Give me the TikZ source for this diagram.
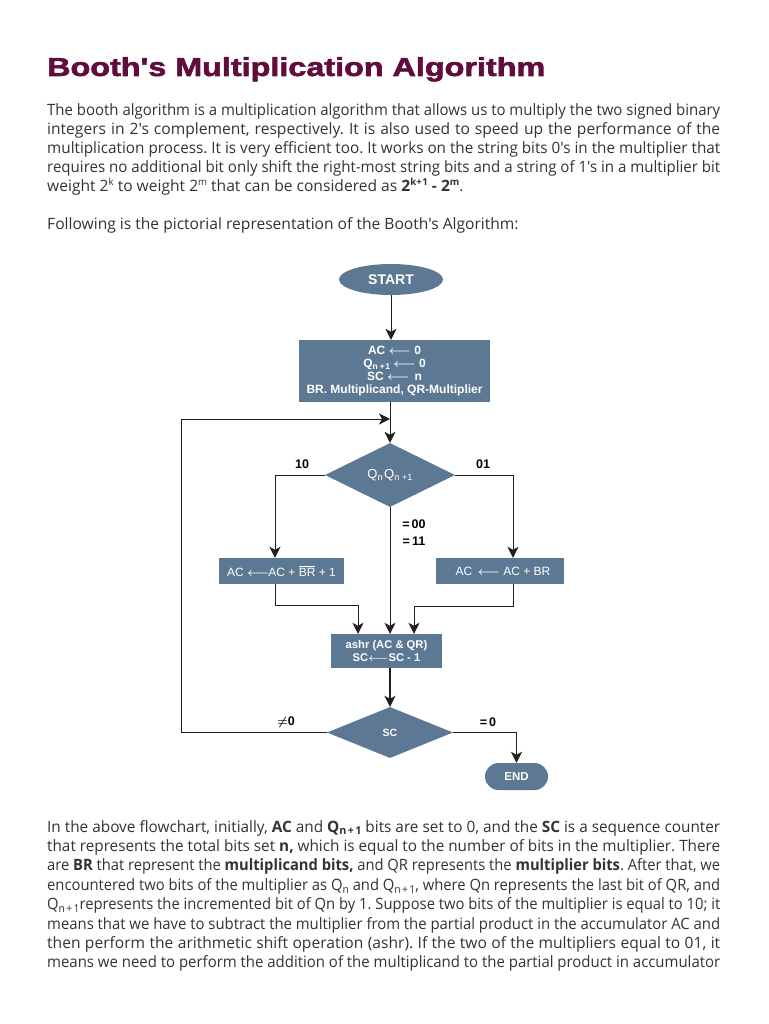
\documentclass[tikz,border=0pt]{standalone}
\usepackage{fontspec}
\usepackage{graphicx}
\usetikzlibrary{shapes.geometric,arrows.meta}
\setmainfont{Open Sans}
\newfontfamily\bodyfont{Open Sans}
\newfontfamily\fcfont{Liberation Sans}
\newfontfamily\ttlfont[FakeBold=2]{Liberation Sans Bold}
\definecolor{ttlcol}{RGB}{96,12,60}
\definecolor{bodycol}{RGB}{51,51,51}
\definecolor{fccol}{RGB}{93,120,146}
\frenchspacing
\newlength\jlw
\newcommand\jline[1]{\settowidth\jlw{#1}\ifdim\jlw>673pt\relax\resizebox{673pt}{\height}{#1}\else\hbox to 673pt{\spaceskip=\fontdimen2\font plus 1fil\relax#1}\fi}
\newcommand\lo[1]{\raisebox{-0.35ex}{\scalebox{0.7}{#1}}}
\newcommand\hi[1]{\raisebox{0.8ex}{\scalebox{0.62}{#1}}}
\newcommand\la{{\boldmath$\longleftarrow$}}
\begin{document}
\begin{tikzpicture}[x=1pt,y=-1pt,
  txt/.style={anchor=base west, inner sep=0, text=bodycol, font=\bodyfont\fontsize{15.6}{19}\selectfont},
  blk/.style={fill=fccol, text=white, inner sep=0, align=center, font=\fcfont\bfseries\fontsize{12}{13.8}\selectfont},
  blkr/.style={blk, font=\fcfont\fontsize{12}{13.8}\selectfont},
  lbl/.style={text=black, inner sep=0, font=\fcfont\bfseries\fontsize{12.5}{14}\selectfont},
  ln/.style={draw=black!88, line width=1pt},
  arr/.style={ln, -{Stealth[length=11pt,width=11pt,inset=3pt]}}
]
\useasboundingbox[fill=white] (0,0) rectangle (768,1024);

% title
\node[anchor=base west, inner sep=0, text=ttlcol] (title) at (47,76)
  {\resizebox{498pt}{\height}{\ttlfont\fontsize{26}{30}\selectfont Booth's Multiplication Algorithm}};

% paragraph 1
\node[txt] (p1a) at (47,116) {\jline{The booth algorithm is a multiplication algorithm that allows us to multiply the two signed binary}};
\node[txt] (p1b) at (47,135) {\jline{integers in 2's complement, respectively. It is also used to speed up the performance of the}};
\node[txt] (p1c) at (47,154) {\jline{multiplication process. It is very efficient too. It works on the string bits 0's in the multiplier that}};
\node[txt] (p1d) at (47,173) {\jline{requires no additional bit only shift the right-most string bits and a string of 1's in a multiplier bit}};
\node[txt] (p1e) at (47,192) {weight 2\hi{k} to weight 2\hi{m} that can be considered as \textbf{2\hi{k+\kern1pt1} - 2\hi{m}}.};
\node[txt] (p1f) at (47,229.5) {Following is the pictorial representation of the Booth's Algorithm:};

% flowchart
\node[blk, ellipse, minimum width=104pt, minimum height=31pt, font=\fcfont\bfseries\fontsize{14}{15}\selectfont] (start) at (391,279.5) {START};
\node[blk, rectangle, minimum width=191pt, minimum height=62pt] (init) at (394.5,371)
  {AC \la\ 0\\[-1pt] Q\lo{n\kern3pt+\kern1pt1} \la\ 0\\ SC \la\ \,n\\[-1pt] BR. Multiplicand, QR-Multiplier};
\node[blkr, diamond, minimum width=130pt, minimum height=64pt, font=\fcfont\fontsize{13}{14}\selectfont] (q) at (390,475) {Q\lo{n}\kern1.5pt Q\lo{n\kern4pt+1}};
\node[blkr, rectangle, minimum width=125pt, minimum height=26pt] (lb) at (281.5,571) {AC \la\kern-1pt AC + \ensuremath{\overline{\mbox{BR}}} + 1};
\node[blkr, rectangle, minimum width=128pt, minimum height=26pt] (rb) at (500,571) {\kern6pt AC \,\la\ AC + BR};
\node[blk, rectangle, minimum width=111pt, minimum height=34pt, font=\fcfont\bfseries\fontsize{11.2}{13}\selectfont] (ash) at (386.5,651) {ashr (AC \& QR)\\ SC\la SC - 1};
\node[blk, diamond, minimum width=126pt, minimum height=51pt, font=\fcfont\bfseries\fontsize{10.5}{12}\selectfont] (sc) at (390,732.5) {SC};
\node[blk, rectangle, rounded corners=13.5pt, minimum width=63pt, minimum height=27pt, font=\fcfont\bfseries\fontsize{11.5}{13}\selectfont] (end) at (516.5,776.5) {END};
\coordinate (lp) at (181,419);

% labels
\node[lbl] (l10) at (302,464) {10};
\node[lbl] (l01) at (483,464) {01};
\node[lbl] (l00) at (414,524) {=\,00};
\node[lbl] (l11) at (414,541) {=\,11};
\node[lbl] (lne) at (286,722) {{\boldmath$\neq$}0};
\node[lbl] (leq) at (488,722) {=\,0};

% connectors
\draw[arr] (start.south) -- (start.south |- init.north);
\draw[arr] (q.north |- init.south) -- (q.north);
\draw[arr] (sc.west) -| (lp) -- (lp -| q.north);
\draw[arr] (q.west) -| ([xshift=-6.5pt]lb.north);
\draw[arr] (q.east) -| ([xshift=13pt]rb.north);
\draw[arr] (q.south) -- (q.south |- ash.north);
\draw[arr] ([xshift=-6.5pt]lb.south) -- ++(0,21) -| ([xshift=-28.5pt]ash.north);
\draw[arr] ([xshift=13pt]rb.south) -- ++(0,22) -| ([xshift=27.5pt]ash.north);
\draw[arr, line width=1.8pt] (sc.north |- ash.south) -- (sc.north);
\draw[arr] (sc.east) -| (end.north);

% paragraph 2
\node[txt] (p2a) at (47,832) {\jline{In the above flowchart, initially, \textbf{AC} and \textbf{Q\lo{n\kern2pt+\kern2pt1}} bits are set to 0, and the \textbf{SC} is a sequence counter}};
\node[txt] (p2b) at (47,851.4) {\jline{that represents the total bits set \textbf{n,} which is equal to the number of bits in the multiplier. There}};
\node[txt] (p2c) at (47,870.8) {\jline{are \textbf{BR} that represent the \textbf{multiplicand bits,} and QR represents the \textbf{multiplier bits}. After that, we}};
\node[txt] (p2d) at (47,890.2) {\jline{encountered two bits of the multiplier as Q\lo{n} and Q\lo{n\kern2pt+\kern2pt1}, where Qn represents the last bit of QR, and}};
\node[txt] (p2e) at (47,909.6) {\jline{Q\lo{n\kern2pt+\kern2pt1}represents the incremented bit of Qn by 1. Suppose two bits of the multiplier is equal to 10; it}};
\node[txt] (p2f) at (47,929) {\jline{means that we have to subtract the multiplier from the partial product in the accumulator AC and}};
\node[txt] (p2g) at (47,948.4) {\jline{then perform the arithmetic shift operation (ashr). If the two of the multipliers equal to 01, it}};
\node[txt] (p2h) at (47,967.8) {\jline{means we need to perform the addition of the multiplicand to the partial product in accumulator}};
\end{tikzpicture}
\end{document}
